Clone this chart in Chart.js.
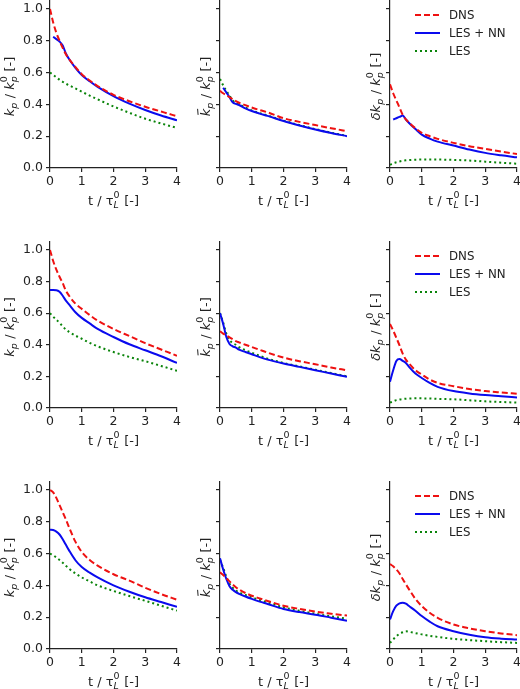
<!DOCTYPE html>
<html><head><meta charset="utf-8">
<script src="https://cdn.jsdelivr.net/npm/chart.js@4.4.0/dist/chart.umd.min.js"></script>
<style>
html,body{margin:0;padding:0;background:#fff;}
body{width:520px;height:689px;overflow:hidden;position:relative;}
canvas{position:absolute;}
</style></head><body>
<script>
// ---------- data ----------
const T = [0,0.1,0.2,0.3,0.4,0.5,0.6,0.8,1.0,1.25,1.5,2,2.5,3,3.5,4];
const X_TICKS = [0,1,2,3,4];
const Y_TICKS = [0,0.2,0.4,0.6,0.8,1.0];
const SERIES_LABELS = ['DNS','LES + NN','LES'];

// row 1
const r1_kp_DNS  = [1.0,0.915,0.85,0.80,0.755,0.715,0.685,0.635,0.59,0.55,0.515,0.46,0.42,0.385,0.355,0.325];
const r1_kp_NN   = [null,0.825,0.81,0.795,0.77,0.72,0.685,0.63,0.585,0.545,0.51,0.452,0.405,0.365,0.33,0.30];
const r1_kp_LES  = [0.60,0.585,0.57,0.555,0.542,0.53,0.52,0.50,0.48,0.455,0.432,0.387,0.347,0.31,0.28,0.252];
const r1_kb_DNS  = [0.485,0.47,0.458,0.445,0.432,0.42,0.41,0.395,0.38,0.364,0.35,0.313,0.29,0.27,0.25,0.232];
const r1_kb_NN   = [null,0.505,0.475,0.445,0.413,0.403,0.396,0.375,0.358,0.342,0.328,0.295,0.267,0.242,0.22,0.2];
const r1_kb_LES  = [0.56,0.52,0.485,0.455,0.425,0.41,0.40,0.38,0.362,0.345,0.33,0.298,0.27,0.245,0.222,0.202];
const r1_dk_DNS  = [0.526,0.47,0.425,0.38,0.335,0.305,0.285,0.25,0.221,0.20,0.183,0.158,0.137,0.12,0.103,0.088];
const r1_dk_NN   = [null,0.305,0.313,0.321,0.33,0.305,0.283,0.245,0.21,0.185,0.166,0.141,0.116,0.095,0.08,0.067];
const r1_dk_LES  = [0.02,0.03,0.036,0.041,0.045,0.048,0.05,0.052,0.053,0.053,0.053,0.051,0.047,0.04,0.033,0.027];

// row 2
const r2_kp_DNS  = [1.0,0.93,0.875,0.83,0.79,0.742,0.71,0.66,0.627,0.588,0.553,0.50,0.455,0.41,0.37,0.33];
const r2_kp_NN   = [0.746,0.746,0.745,0.735,0.71,0.679,0.655,0.606,0.57,0.535,0.50,0.449,0.403,0.365,0.327,0.285];
const r2_kp_LES  = [0.60,0.578,0.558,0.54,0.516,0.497,0.482,0.458,0.438,0.412,0.39,0.354,0.323,0.296,0.266,0.235];
const r2_kb_DNS  = [0.486,0.47,0.458,0.447,0.435,0.423,0.415,0.40,0.386,0.368,0.35,0.319,0.296,0.277,0.256,0.239];
const r2_kb_NN   = [0.60,0.532,0.449,0.405,0.39,0.382,0.369,0.354,0.34,0.322,0.306,0.281,0.26,0.239,0.218,0.197];
const r2_kb_LES  = [0.60,0.54,0.47,0.43,0.41,0.40,0.385,0.365,0.35,0.33,0.312,0.285,0.263,0.242,0.221,0.20];
const r2_dk_DNS  = [0.532,0.49,0.444,0.396,0.344,0.306,0.281,0.239,0.212,0.18,0.159,0.138,0.12,0.107,0.098,0.09];
const r2_dk_NN   = [0.166,0.239,0.298,0.31,0.298,0.285,0.26,0.218,0.19,0.159,0.134,0.107,0.092,0.082,0.075,0.067];
const r2_dk_LES  = [0.034,0.042,0.05,0.054,0.057,0.059,0.06,0.061,0.061,0.06,0.058,0.055,0.049,0.042,0.038,0.034];

// row 3
const r3_kp_DNS  = [1.0,0.985,0.95,0.905,0.86,0.815,0.765,0.675,0.61,0.56,0.524,0.47,0.43,0.385,0.345,0.31];
const r3_kp_NN   = [0.75,0.748,0.738,0.72,0.69,0.655,0.62,0.558,0.515,0.48,0.45,0.40,0.36,0.325,0.295,0.265];
const r3_kp_LES  = [0.60,0.59,0.575,0.56,0.542,0.524,0.505,0.475,0.45,0.425,0.40,0.365,0.333,0.303,0.272,0.241];
const r3_kb_DNS  = [0.482,0.465,0.445,0.425,0.405,0.388,0.374,0.352,0.335,0.318,0.302,0.272,0.252,0.235,0.222,0.21];
const r3_kb_NN   = [0.57,0.50,0.44,0.395,0.372,0.357,0.347,0.33,0.315,0.298,0.283,0.252,0.232,0.216,0.197,0.178];
const r3_kb_LES  = [0.56,0.51,0.455,0.41,0.385,0.368,0.357,0.34,0.325,0.308,0.293,0.262,0.24,0.222,0.205,0.19];
const r3_dk_DNS  = [0.534,0.52,0.50,0.475,0.44,0.407,0.375,0.315,0.27,0.228,0.196,0.154,0.13,0.112,0.098,0.087];
const r3_dk_NN   = [0.186,0.238,0.272,0.287,0.291,0.285,0.27,0.24,0.207,0.172,0.143,0.112,0.09,0.074,0.065,0.059];
const r3_dk_LES  = [0.038,0.06,0.08,0.095,0.105,0.111,0.108,0.10,0.092,0.083,0.076,0.064,0.056,0.049,0.043,0.038];

// ---------- layout & style ----------
const PLOT_LEFT = [50,220,390];
const PLOT_W = 127;
const PLOT_TOP = [1,242,482];
const PLOT_BOTTOM = [168,408,649];
const PAD = 8, YW = 50, XH = 42;
const Y_MAX = 1.05;
const FONT = "'DejaVu Sans', sans-serif";
const INK = '#222';
const STYLES = [
  {color:'#ee1111', dash:[6,3]},
  {color:'#0a0aee', dash:[]},
  {color:'#0a840a', dash:[2,3]}
];

const grid = [
  [[r1_kp_DNS,r1_kp_NN,r1_kp_LES],[r1_kb_DNS,r1_kb_NN,r1_kb_LES],[r1_dk_DNS,r1_dk_NN,r1_dk_LES]],
  [[r2_kp_DNS,r2_kp_NN,r2_kp_LES],[r2_kb_DNS,r2_kb_NN,r2_kb_LES],[r2_dk_DNS,r2_dk_NN,r2_dk_LES]],
  [[r3_kp_DNS,r3_kp_NN,r3_kp_LES],[r3_kb_DNS,r3_kb_NN,r3_kb_LES],[r3_dk_DNS,r3_dk_NN,r3_dk_LES]]
];

// rich text titles
const Y_TITLES = [
  [{t:'k',it:1},{sub:'p'},{t:' / '},{t:'k',it:1},{sub:'p',sup:'0'},{t:' [-]'}],
  [{t:'k',it:1,bar:1},{sub:'p'},{t:' / '},{t:'k',it:1},{sub:'p',sup:'0'},{t:' [-]'}],
  [{t:'δ',it:1},{t:'k',it:1},{sub:'p'},{t:' / '},{t:'k',it:1},{sub:'p',sup:'0'},{t:' [-]'}]
];
const X_TITLE = [{t:'t / '},{t:'τ'},{sub:'L',sup:'0'},{t:' [-]'}];

const MAIN = 13, SCRIPT = 9.5;
function fnt(size,it){return (it?'italic ':'')+size+'px '+FONT;}
function segWidth(ctx,s){
  if(s.t!==undefined){ctx.font=fnt(MAIN,s.it);return ctx.measureText(s.t).width;}
  let w=0;
  if(s.sub){ctx.font=fnt(SCRIPT,1);w=Math.max(w,ctx.measureText(s.sub).width);}
  if(s.sup){ctx.font=fnt(SCRIPT,0);w=Math.max(w,ctx.measureText(s.sup).width);}
  return w+0.5;
}
function drawRich(ctx,segs,cx,cy,angle){
  ctx.save();
  ctx.translate(cx,cy);ctx.rotate(angle);
  ctx.fillStyle=INK;ctx.textBaseline='alphabetic';ctx.textAlign='left';
  let W=0;segs.forEach(s=>W+=segWidth(ctx,s));
  let x=-W/2;const base=4.6;
  segs.forEach(s=>{
    const w=segWidth(ctx,s);
    if(s.t!==undefined){
      ctx.font=fnt(MAIN,s.it);ctx.fillText(s.t,x,base);
      if(s.bar){ctx.strokeStyle=INK;ctx.lineWidth=1;ctx.beginPath();ctx.moveTo(x+1.5,base-11.5);ctx.lineTo(x+w,base-12);ctx.stroke();}
    } else {
      if(s.sub){ctx.font=fnt(SCRIPT,1);ctx.fillText(s.sub,x,base+3.2);}
      if(s.sup){ctx.font=fnt(SCRIPT,0);ctx.fillText(s.sup,x,base-6.5);}
    }
    x+=w;
  });
  ctx.restore();
}

const decor = {
  id:'decor',
  afterDraw(chart){
    const o=chart.options.plugins.decor;const ctx=chart.ctx;const a=chart.chartArea;
    drawRich(ctx,X_TITLE,(a.left+a.right)/2,a.bottom+32,0);
    const off = o.col===0?41:15;
    drawRich(ctx,Y_TITLES[o.col],a.left-off,(a.top+a.bottom)/2+2,-Math.PI/2);
    if(o.legend){
      chart.data.datasets.forEach((ds,i)=>{
        const y=a.top+14+18*i;
        ctx.save();
        ctx.strokeStyle=ds.borderColor;ctx.lineWidth=ds.borderWidth;ctx.setLineDash(ds.borderDash);
        ctx.beginPath();ctx.moveTo(a.left+25,y);ctx.lineTo(a.left+50,y);ctx.stroke();
        ctx.setLineDash([]);
        ctx.fillStyle=INK;ctx.font=fnt(11.8,0);ctx.textBaseline='middle';ctx.textAlign='left';
        ctx.fillText(ds.label,a.left+59,y+0.5);
        ctx.restore();
      });
    }
  }
};

Chart.defaults.font.family = FONT;

for(let r=0;r<3;r++){
  for(let c=0;c<3;c++){
    const cv=document.createElement('canvas');
    const w=YW+PLOT_W+PAD, h=PAD+(PLOT_BOTTOM[r]-PLOT_TOP[r])+XH;
    cv.width=w;cv.height=h;
    cv.style.width=w+'px';cv.style.height=h+'px';
    cv.style.left=(PLOT_LEFT[c]-YW)+'px';cv.style.top=(PLOT_TOP[r]-PAD)+'px';
    document.body.appendChild(cv);
    const series=grid[r][c];
    const datasets=series.map((arr,i)=>({
      label:SERIES_LABELS[i],
      data:T.map((t,k)=>({x:t,y:arr[k]})).filter(p=>p.y!==null),
      borderColor:STYLES[i].color,borderDash:STYLES[i].dash,borderWidth:2,
      pointRadius:0,fill:false,cubicInterpolationMode:'monotone',
      borderCapStyle:'butt'
    }));
    new Chart(cv,{
      type:'line',
      data:{datasets},
      plugins:[decor],
      options:{
        responsive:false,animation:false,devicePixelRatio:window.devicePixelRatio||1,
        layout:{padding:{left:0,top:PAD,right:PAD,bottom:0}},
        plugins:{legend:{display:false},tooltip:{enabled:false},decor:{col:c,legend:c===2}},
        scales:{
          x:{type:'linear',min:0,max:4,
            afterBuildTicks:s=>{s.ticks=X_TICKS.map(v=>({value:v}));},
            afterFit:s=>{s.height=XH;s.paddingLeft=0;s.paddingRight=0;},
            ticks:{callback:v=>String(v),color:INK,font:{size:12.5},padding:2,maxRotation:0,autoSkip:false},
            grid:{display:true,drawOnChartArea:false,drawTicks:true,tickLength:4,color:INK,lineWidth:1.2},
            border:{display:true,color:INK,width:1.2}},
          y:{type:'linear',min:0,max:Y_MAX,
            afterBuildTicks:s=>{s.ticks=Y_TICKS.map(v=>({value:v}));},
            afterFit:s=>{s.width=YW;s.paddingTop=0;s.paddingBottom=0;},
            ticks:{callback:v=>c===0?v.toFixed(1):'',color:INK,font:{size:12.5},padding:3,autoSkip:false},
            grid:{display:true,drawOnChartArea:false,drawTicks:true,tickLength:4,color:INK,lineWidth:1.2},
            border:{display:true,color:INK,width:1.2}}
        }
      }
    });
  }
}
</script>
</body></html>
